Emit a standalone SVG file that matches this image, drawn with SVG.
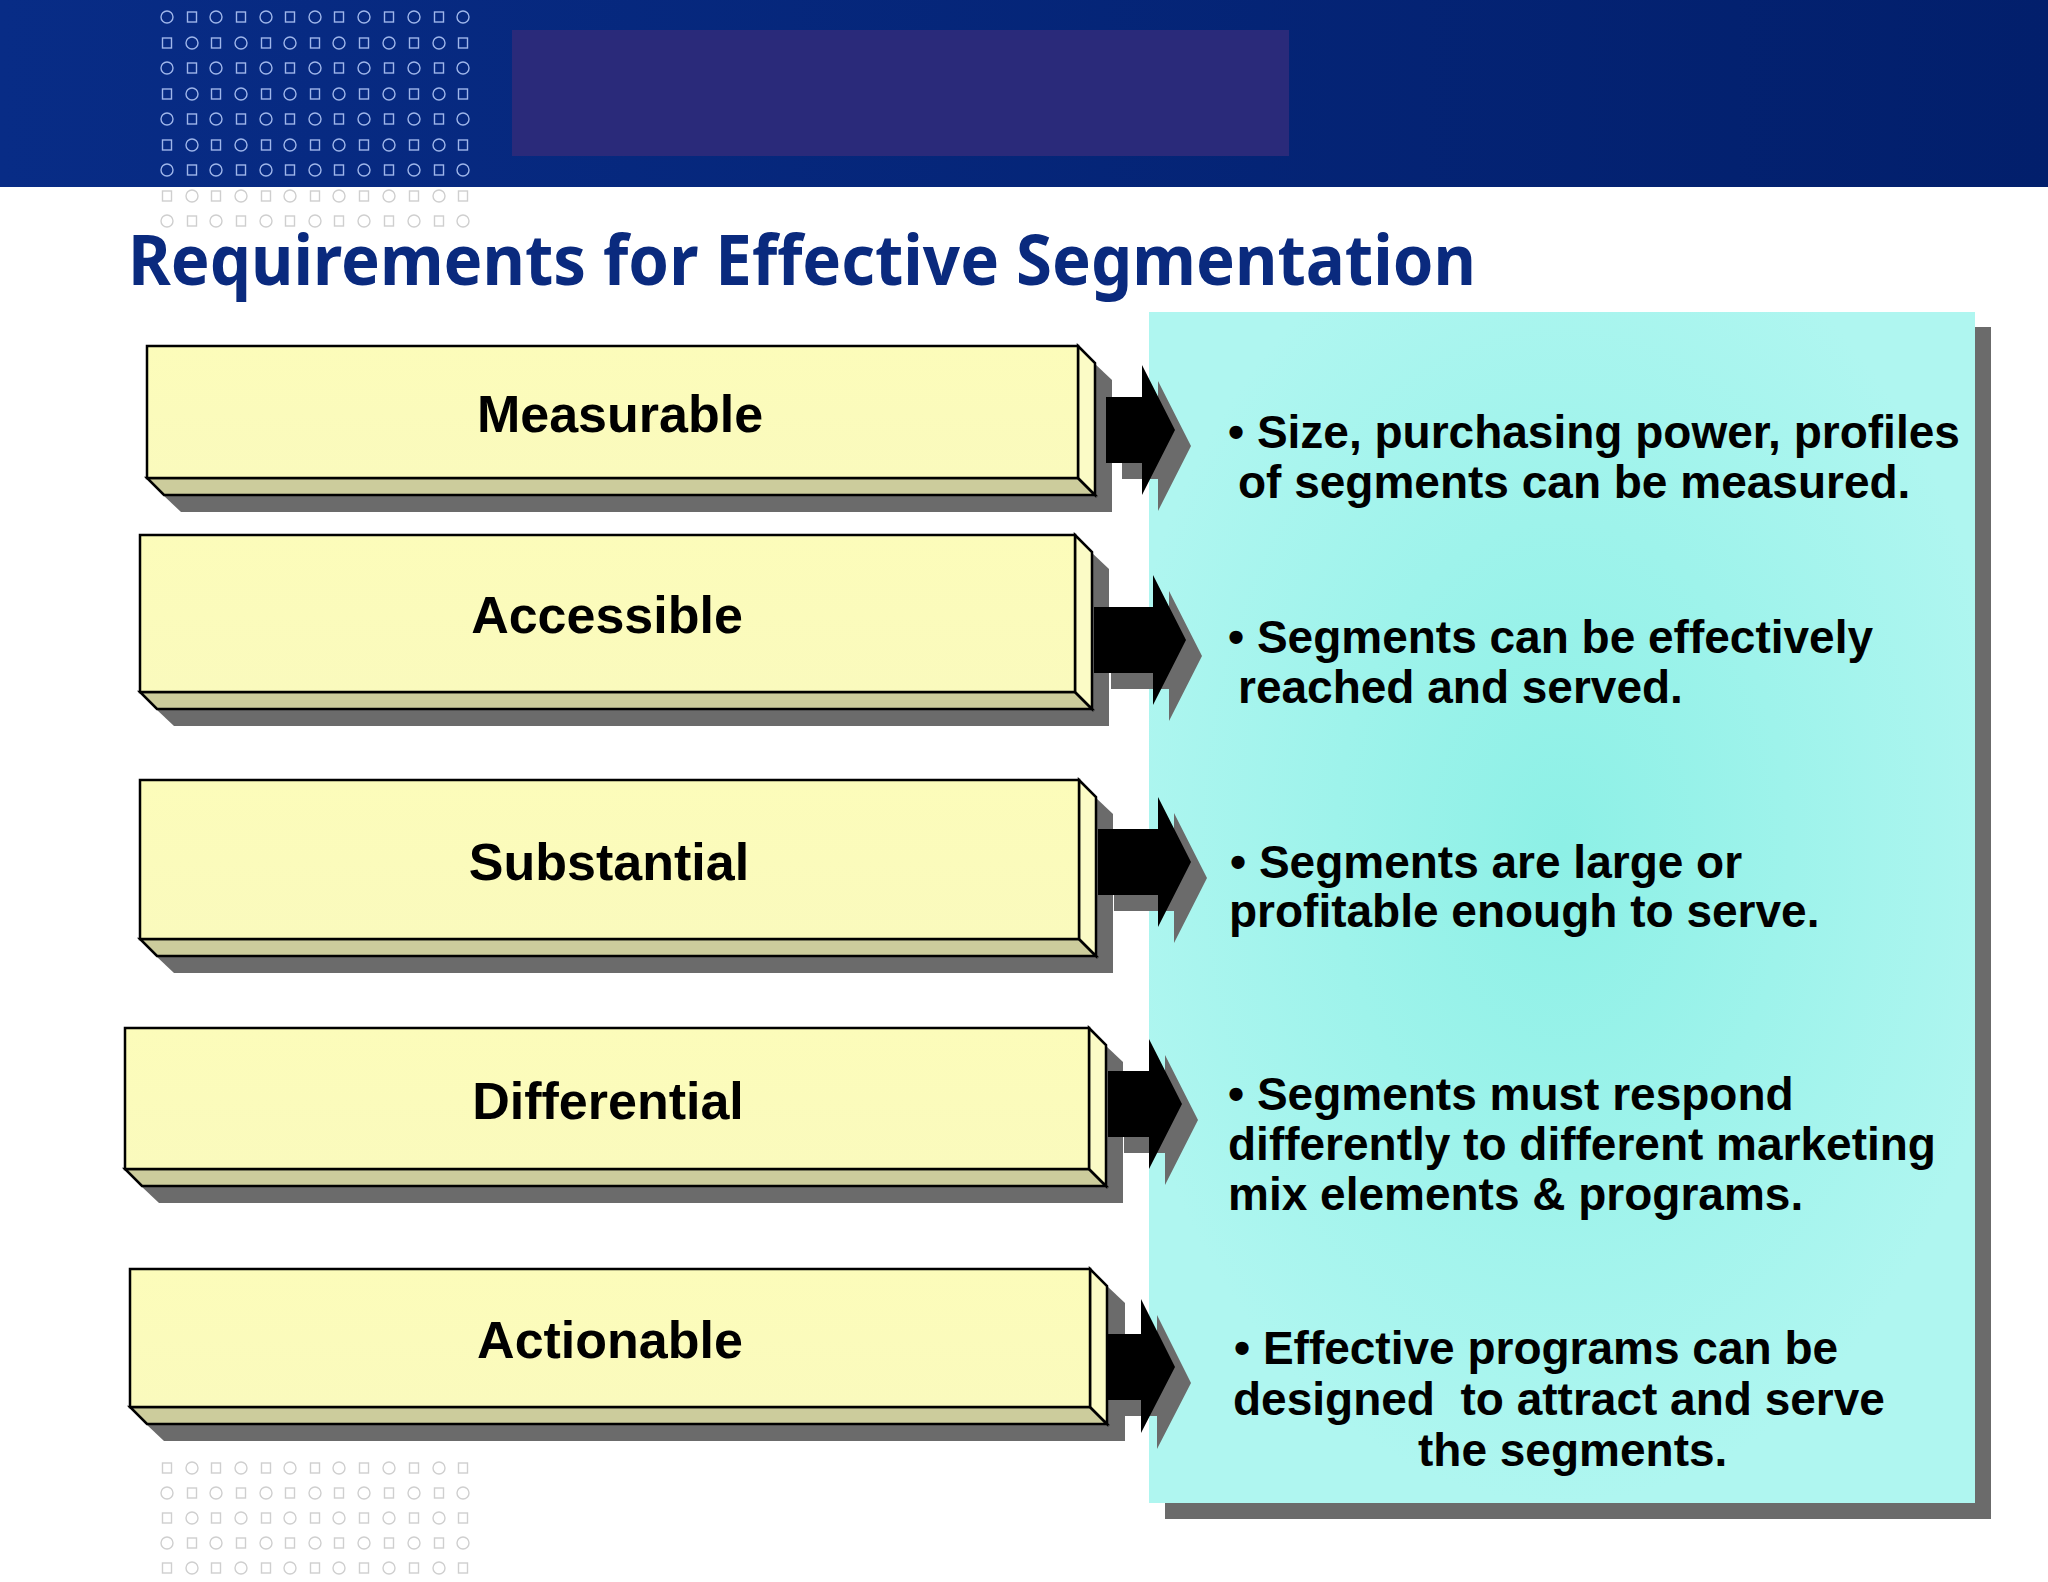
<svg xmlns="http://www.w3.org/2000/svg" width="2048" height="1582" viewBox="0 0 2048 1582">
<defs>
<linearGradient id="hdr" x1="0" y1="0" x2="1" y2="0">
<stop offset="0" stop-color="#082c86"/><stop offset="1" stop-color="#021f6c"/>
</linearGradient>
<radialGradient id="pnl" cx="0.5" cy="0.45" r="0.55">
<stop offset="0" stop-color="#8df0e6"/><stop offset="1" stop-color="#aff6f0"/>
</radialGradient>
<linearGradient id="front" x1="0" y1="0" x2="0" y2="1">
<stop offset="0" stop-color="#fcfcba"/><stop offset="1" stop-color="#fafabd"/>
</linearGradient>
<g id="dc"><circle cx="0" cy="0" r="6"/></g>
<g id="ds"><rect x="-4.5" y="-5" width="9" height="10"/></g>
</defs>
<style>
.sh{fill:#6b6b6b}
.fr{fill:url(#front);stroke:#000;stroke-width:2.5;stroke-linejoin:miter}
.rt{fill:#fbfbc6;stroke:#000;stroke-width:2.5}
.bt{fill:#cccc9c;stroke:#000;stroke-width:2.5}
.lbl{font-family:"Liberation Sans",Arial,sans-serif;font-weight:bold;font-size:52px;fill:#000;text-anchor:middle}
.pt{font-family:"Liberation Sans",Arial,sans-serif;font-weight:bold;font-size:46px;fill:#000;white-space:pre}
.arr{fill:#000}
.arrs{fill:#6b6b6b}
.dw{fill:none;stroke:#9fb6ea;stroke-width:1.4}
.dg{fill:none;stroke:#cfcfcf;stroke-width:1.4}
</style>

<!-- header -->
<g id="header">
<rect x="0" y="0" width="2048" height="187" fill="url(#hdr)"/>
<rect x="512" y="30" width="777" height="126" fill="#2a2a7a"/>
</g>

<g id="dots-top" class="dw">
<g id="rowA">
<use href="#dc" x="167" y="17"/><use href="#ds" x="192" y="17"/><use href="#dc" x="216" y="17"/><use href="#ds" x="241" y="17"/><use href="#dc" x="266" y="17"/><use href="#ds" x="290" y="17"/><use href="#dc" x="315" y="17"/><use href="#ds" x="339" y="17"/><use href="#dc" x="364" y="17"/><use href="#ds" x="389" y="17"/><use href="#dc" x="414" y="17"/><use href="#ds" x="439" y="17"/><use href="#dc" x="463" y="17"/>
</g>
<g id="rowB">
<use href="#ds" x="167" y="43"/><use href="#dc" x="192" y="43"/><use href="#ds" x="216" y="43"/><use href="#dc" x="241" y="43"/><use href="#ds" x="266" y="43"/><use href="#dc" x="290" y="43"/><use href="#ds" x="315" y="43"/><use href="#dc" x="339" y="43"/><use href="#ds" x="364" y="43"/><use href="#dc" x="389" y="43"/><use href="#ds" x="414" y="43"/><use href="#dc" x="439" y="43"/><use href="#ds" x="463" y="43"/>
</g>
<use href="#rowA" y="51"/>
<use href="#rowB" y="51"/>
<use href="#rowA" y="102"/>
<use href="#rowB" y="102"/>
<use href="#rowA" y="153"/>
</g>
<g id="dots-top-grey" class="dg">
<use href="#rowB" y="153"/>
<use href="#rowA" y="204"/>
</g>
<g id="dots-bottom" class="dg">
<use href="#rowB" y="1425"/>
<use href="#rowA" y="1476"/>
<use href="#rowB" y="1475"/>
<use href="#rowA" y="1526"/>
<use href="#rowB" y="1525"/>
</g>

<!-- title -->
<g id="title">
<text x="128" y="285" font-family="'Noto Sans','Open Sans',sans-serif" font-weight="bold" font-size="70" fill="#0a2a7e" textLength="1348" lengthAdjust="spacingAndGlyphs">Requirements for Effective Segmentation</text>
</g>

<!-- panel -->
<g id="node-panel">
<rect x="1165" y="327" width="826" height="1192" class="sh"/>
<rect x="1149" y="312" width="826" height="1191" fill="url(#pnl)"/>
<text class="pt" x="1228" y="448">• Size, purchasing power, profiles</text>
<text class="pt" x="1238" y="498">of segments can be measured.</text>
<text class="pt" x="1228" y="653">• Segments can be effectively</text>
<text class="pt" x="1238" y="703">reached and served.</text>
<text class="pt" x="1230" y="878">• Segments are large or</text>
<text class="pt" x="1229" y="927">profitable enough to serve.</text>
<text class="pt" x="1228" y="1110">• Segments must respond</text>
<text class="pt" x="1228" y="1160">differently to different marketing</text>
<text class="pt" x="1228" y="1210">mix elements &amp; programs.</text>
<text class="pt" x="1234" y="1364">• Effective programs can be</text>
<text class="pt" x="1233" y="1415">designed  to attract and serve</text>
<text class="pt" x="1418" y="1466">the segments.</text>
</g>

<!-- boxes -->
<g id="node-measurable">
<polygon class="sh" points="163,363 1094,363 1112,380 1112,512 181,512 163,495"/>
<polygon class="bt" points="147,478 1078,478 1095,495 164,495"/>
<polygon class="rt" points="1078,346 1095,363 1095,495 1078,478"/>
<rect class="fr" x="147" y="346" width="931" height="132"/>
<text class="lbl" x="620" y="432">Measurable</text>
</g>
<g id="node-accessible">
<polygon class="sh" points="156,552 1091,552 1109,569 1109,726 174,726 156,709"/>
<polygon class="bt" points="140,692 1075,692 1092,709 157,709"/>
<polygon class="rt" points="1075,535 1092,552 1092,709 1075,692"/>
<rect class="fr" x="140" y="535" width="935" height="157"/>
<text class="lbl" x="607" y="633">Accessible</text>
</g>
<g id="node-substantial">
<polygon class="sh" points="156,797 1095,797 1113,814 1113,973 174,973 156,956"/>
<polygon class="bt" points="140,939 1079,939 1096,956 157,956"/>
<polygon class="rt" points="1079,780 1096,797 1096,956 1079,939"/>
<rect class="fr" x="140" y="780" width="939" height="159"/>
<text class="lbl" x="609" y="880">Substantial</text>
</g>
<g id="node-differential">
<polygon class="sh" points="141,1045 1105,1045 1123,1062 1123,1203 159,1203 141,1186"/>
<polygon class="bt" points="125,1169 1089,1169 1106,1186 142,1186"/>
<polygon class="rt" points="1089,1028 1106,1045 1106,1186 1089,1169"/>
<rect class="fr" x="125" y="1028" width="964" height="141"/>
<text class="lbl" x="608" y="1119">Differential</text>
</g>
<g id="node-actionable">
<polygon class="sh" points="146,1286 1107,1286 1125,1303 1125,1441 164,1441 146,1424"/>
<polygon class="bt" points="130,1407 1090,1407 1107,1424 147,1424"/>
<polygon class="rt" points="1090,1269 1107,1286 1107,1424 1090,1407"/>
<rect class="fr" x="130" y="1269" width="960" height="138"/>
<text class="lbl" x="610" y="1358">Actionable</text>
</g>

<!-- connectors -->
<g id="connectors">
<g id="arrow-1">
<path class="arrs" d="M1122,413 H1158 V381 L1191,446 L1158,511 V479 H1122 Z"/>
<path class="arr" d="M1106,397 H1142 V365 L1175,430 L1142,495 V463 H1106 Z"/>
</g>
<g id="arrow-2">
<path class="arrs" d="M1111,623 H1169 V591 L1202,656 L1169,721 V689 H1111 Z"/>
<path class="arr" d="M1094,607 H1153 V575 L1186,640 L1153,705 V673 H1094 Z"/>
</g>
<g id="arrow-3">
<path class="arrs" d="M1114,845 H1174 V813 L1207,878 L1174,943 V911 H1114 Z"/>
<path class="arr" d="M1098,829 H1158 V797 L1191,862 L1158,927 V895 H1098 Z"/>
</g>
<g id="arrow-4">
<path class="arrs" d="M1124,1087 H1165 V1055 L1198,1120 L1165,1185 V1153 H1124 Z"/>
<path class="arr" d="M1108,1071 H1149 V1039 L1182,1104 L1149,1169 V1137 H1108 Z"/>
</g>
<g id="arrow-5">
<path class="arrs" d="M1122,1350 H1157 V1315 L1191,1383 L1157,1449 V1416 H1122 Z"/>
<path class="arr" d="M1106,1334 H1141 V1299 L1175,1367 L1141,1433 V1400 H1106 Z"/>
</g>
</g>
</svg>
